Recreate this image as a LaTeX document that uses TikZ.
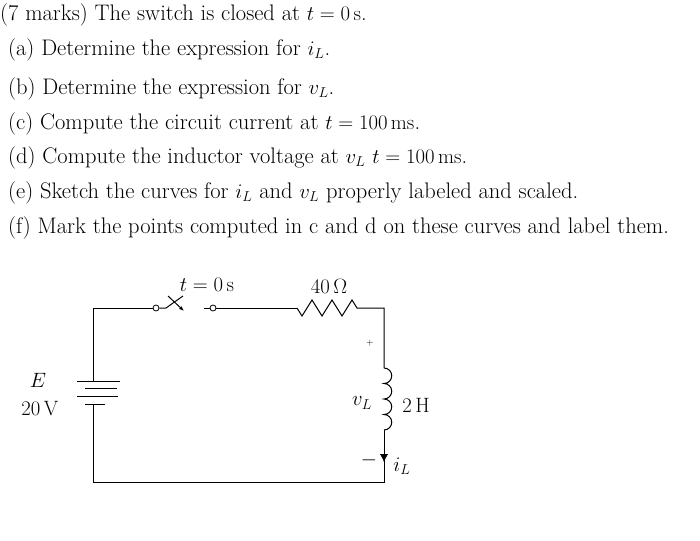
\documentclass[tikz,border=0pt]{standalone}
\usetikzlibrary{arrows.meta}
\begin{document}
\begin{tikzpicture}[x=1pt,y=-1pt,
 txt/.style={anchor=west,inner sep=0pt,font=\fontsize{22.5}{26}\selectfont},
 lab/.style={inner sep=1pt,font=\fontsize{20}{22}\selectfont},
 wire/.style={line width=1pt},
 term/.style={circle,draw,fill=white,inner sep=0pt,minimum size=6pt,line width=0.8pt}]
\useasboundingbox (0,0) rectangle (700,540);
\node[txt] (l1) at (0,15) {(7 marks) The switch is closed at $t=0\,\mathrm{s}$.};
\node[txt] (l2) at (8,50) {(a) Determine the expression for $i_L$.};
\node[txt] (l3) at (8,89) {(b) Determine the expression for $v_L$.};
\node[txt] (l4) at (8,124) {(c) Compute the circuit current at $t=100\,\mathrm{ms}$.};
\node[txt] (l5) at (8,158) {(d) Compute the inductor voltage at $v_L$ $t=100\,\mathrm{ms}$.};
\node[txt] (l6) at (8,193) {(e) Sketch the curves for $i_L$ and $v_L$ properly labeled and scaled.};
\node[txt] (l7) at (8,228) {(f) Mark the points computed in c and d on these curves and label them.};
% circuit
\coordinate (tl) at (93,308);
\coordinate (tr) at (384,308);
\coordinate (bl) at (93,482);
\coordinate (br) at (384,482);
\coordinate (bt) at (93,381);
\coordinate (bb) at (93,404);
\node[term] (s1) at (156,308) {};
\node[term] (s2) at (213,308) {};
\coordinate (r1) at (297,308);
\coordinate (r2) at (360,308);
\coordinate (i1) at (384,368);
\coordinate (i2) at (384,430);
\draw[wire] (bt) -- (tl) -- (s1.west);
\draw[wire] (s1.east) -- (166,308) -- (183,296);
\draw[wire,-{Latex[length=5pt]}] (168,296) -- (184,311);
\draw[wire] (204,308) -- (s2.west);
\draw[wire] (s2.east) -- (r1);
\draw[wire] (r1) -- (302,316) -- (312,300) -- (322,316) -- (332,300) -- (342,316) -- (352,300) -- (357,308) -- (r2) -- (tr) -- (i1);
\draw[wire] (i1) \foreach \k in {0,1,2,3}{ arc[start angle=-90,end angle=90,radius=7.75] } ;
\draw[wire] (i2) -- (br) -- (bl) -- (bb);
\draw[wire] (77,381) -- (120,381);
\draw[wire] (85,388) -- (117,388);
\draw[wire] (77,396) -- (118,396);
\draw[wire] (85,404) -- (105,404);
\coordinate (ia) at (384,462);
\draw[-{Latex[length=8pt,width=8pt]}] (384,455) -- (ia);
\node[lab] (sw) at (207,285) {$t=0\,\mathrm{s}$};
\node[lab] (rl) at (329,286) {$40\,\Omega$};
\node[lab] (pl) at (370,343) {\small$+$};
\node[lab] (mn) at (369,460) {$-$};
\node[lab] (vl) at (362,403) {$v_L$};
\node[lab] (ll) at (416,405) {$2\,\mathrm{H}$};
\node[lab] (il) at (402,466) {$i_L$};
\node[lab] (E) at (38,380) {$E$};
\node[lab] (ev) at (40,408) {$20\,\mathrm{V}$};
\end{tikzpicture}
\end{document}
